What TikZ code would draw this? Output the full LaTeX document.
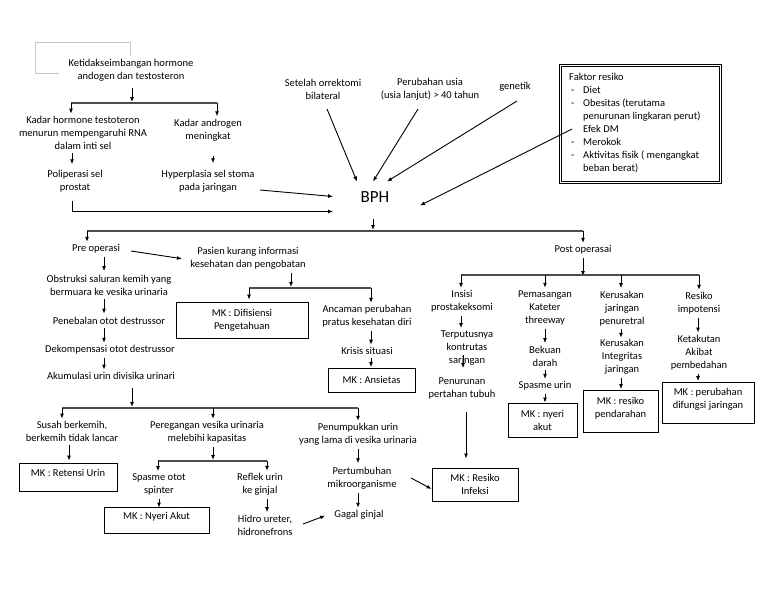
\documentclass[tikz,border=0pt]{standalone}
\usepackage{fontspec}
\setmainfont{Carlito}
\usetikzlibrary{arrows.meta,calc}
\begin{document}
\begin{tikzpicture}[x=1pt,y=-1pt,
  txt/.style={align=center,font=\fontsize{10.5}{13}\selectfont,inner sep=0.5pt},
  mk/.style={draw,line width=0.8pt,align=center,font=\fontsize{10.5}{13}\selectfont,inner sep=0pt},
  raised/.style={text depth=8pt},
  arr/.style={-{Latex[length=5pt,width=4pt]},line width=0.9pt,shorten <=3pt,shorten >=2pt},
  bar/.style={line width=1.2pt,draw=black!70}]
\fill[white] (0,0) rectangle (768,594);
\useasboundingbox (0,0) rectangle (768,594);
% faint frame
\draw[black!22,line width=0.8pt] (35,42) rectangle (130,73);
% top nodes
\node[txt,fill=white,inner xsep=10pt,inner ysep=2.5pt] (keti) at (131,70) {Ketidakseimbangan hormone\\andogen dan testosteron};
\node[txt] (khor) at (83,133) {Kadar hormone testoteron\\menurun mempengaruhi RNA\\dalam inti sel};
\node[txt] (kand) at (208,130) {Kadar androgen\\meningkat};
\node[txt] (poli) at (75,181) {Poliperasi sel\\prostat};
\node[txt] (hyp) at (208,181) {Hyperplasia sel stoma\\pada jaringan};
\node[txt] (orr) at (323,89.5) {Setelah orrektomi\\bilateral};
\node[txt] (usia) at (430,89.5) {Perubahan usia\\(usia lanjut) > 40 tahun};
\node[txt] (gen) at (515,87) {genetik};
\node[font=\fontsize{17}{20}\selectfont,inner sep=0.5pt] (bph) at (375,197.5) {BPH};
% risk factor box
\node[draw,line width=1pt,double,double distance=1pt,minimum width=160pt,minimum height=117pt,inner sep=0pt] (fk) at (640.5,124) {};
\node[txt,align=left,anchor=north west,inner sep=0pt] (fkt) at (569,72.8) {Faktor resiko\\
\makebox[14pt][l]{\hspace{2pt}-}Diet\\
\makebox[14pt][l]{\hspace{2pt}-}Obesitas (terutama\\
\makebox[14pt][l]{}penurunan lingkaran perut)\\
\makebox[14pt][l]{}Efek DM\\
\makebox[14pt][l]{\hspace{2pt}-}Merokok\\
\makebox[14pt][l]{\hspace{2pt}-}Aktivitas fisik ( mengangkat\\
\makebox[14pt][l]{}beban berat)};
% pre operasi branch
\node[txt] (pre) at (96,249) {Pre operasi};
\node[txt] (pasien) at (248,258.5) {Pasien kurang informasi\\kesehatan dan pengobatan};
\node[mk,minimum width=132pt,minimum height=36pt] (mkdif) at (242,320) {MK : Difisiensi\\Pengetahuan};
\node[txt] (ancam) at (367,316.5) {Ancaman perubahan\\pratus kesehatan diri};
\node[txt] (krisis) at (367,351) {Krisis situasi};
\node[mk,minimum width=87pt,minimum height=24pt] (mkans) at (371.5,380) {MK : Ansietas};
\node[txt] (obs) at (109,285) {Obstruksi saluran kemih yang\\bermuara ke vesika urinaria};
\node[txt] (pen) at (109,321) {Penebalan otot destrussor};
\node[txt] (dek) at (110,350) {Dekompensasi otot destrussor};
\node[txt] (aku) at (111,376) {Akumulasi urin divisika urinari};
\node[txt] (susah) at (72,431.5) {Susah berkemih,\\berkemih tidak lancar};
\node[mk,raised,minimum width=98pt,minimum height=28pt] (mkret) at (68,477) {MK : Retensi Urin};
\node[txt] (pereg) at (207,432.5) {Peregangan vesika urinaria\\melebihi kapasitas};
\node[txt] (spasme) at (159,484.5) {Spasme otot\\spinter};
\node[txt] (reflek) at (260,484.5) {Reflek urin\\ke ginjal};
\node[mk,raised,minimum width=105pt,minimum height=26pt] (mknyeri) at (156.5,520) {MK : Nyeri Akut};
\node[txt] (hidro) at (265,525) {Hidro ureter,\\hidronefrons};
\node[txt] (gagal) at (359,515) {Gagal ginjal};
\node[txt] (penum) at (358,434.5) {Penumpukkan urin\\yang lama di vesika urinaria};
\node[txt] (pert) at (362,478) {Pertumbuhan\\mikroorganisme};
\node[mk,minimum width=86pt,minimum height=33pt] (mkinf) at (475,484.5) {MK : Resiko\\Infeksi};
% post operasi branch
\node[txt] (post) at (583,250) {Post operasai};
\node[txt] (ins) at (462,301.5) {Insisi\\prostakeksomi};
\node[txt] (terp) at (467,348) {Terputusnya\\kontrutas\\saringan};
\node[txt] (penur) at (462,388.5) {Penurunan\\pertahan tubuh};
\node[txt] (pem) at (545,307.7) {Pemasangan\\Kateter\\threeway};
\node[txt] (bek) at (545,356) {Bekuan\\darah};
\node[txt] (spas) at (545,386) {Spasme urin};
\node[mk,minimum width=69pt,minimum height=34pt] (mknA) at (542.5,420) {MK : nyeri\\akut};
\node[txt] (ker) at (622,308.3) {Kerusakan\\jaringan\\penuretral};
\node[txt] (kint) at (622,357) {Kerusakan\\Integritas\\jaringan};
\node[mk,raised,minimum width=75pt,minimum height=42pt] (mkpen) at (620.5,411) {MK : resiko\\pendarahan};
\node[txt] (res) at (699,303.5) {Resiko\\impotensi};
\node[txt] (ket) at (699,352.7) {Ketakutan\\Akibat\\pembedahan};
\node[mk,raised,minimum width=92pt,minimum height=41pt] (mkper) at (708,402.5) {MK : perubahan\\difungsi jaringan};
% coordinates
\coordinate (b1L) at (71,103); \coordinate (b1M) at (132,103); \coordinate (b1R) at (217,103);
\coordinate (c72) at (72,0); \coordinate (c213) at (213,0);
\coordinate (b2L) at (87,231); \coordinate (b2M) at (373,231); \coordinate (b2R) at (583,231);
\coordinate (b3L) at (249,288); \coordinate (b3M) at (291,288); \coordinate (b3R) at (371,288);
\coordinate (c371) at (371,0); \coordinate (c104) at (104,0);
\coordinate (b4L) at (62,408); \coordinate (b4M) at (132,408); \coordinate (b4P) at (213,408); \coordinate (b4R) at (358,408);
\coordinate (c69) at (69,0);
\coordinate (b5L) at (158,461); \coordinate (b5M) at (213,461); \coordinate (b5R) at (267,461);
\coordinate (c159) at (159,0); \coordinate (c267) at (267,0); \coordinate (c358) at (358,0);
\coordinate (b6L) at (461,275); \coordinate (b6a) at (545,275); \coordinate (b6b) at (621,275); \coordinate (b6R) at (699,275); \coordinate (b6M) at (583,276);
\coordinate (c461) at (461,0); \coordinate (c463) at (463,0); \coordinate (c545) at (545,0); \coordinate (c621) at (621,0); \coordinate (c698) at (698,0);
% top connectors
\draw[arr,shorten <=4pt,shorten >=1pt] (keti.south -| b1M) -- (b1M);
\draw[bar] (b1L) -- (b1R);
\draw[arr,shorten <=0pt] (b1L) -- (khor.north -| b1L);
\draw[arr,shorten <=0pt] (b1R) -- (kand.north -| b1R);
\draw[arr,shorten >=5pt] (khor.south -| c72) -- (poli.north -| c72);
\draw[arr,shorten <=14pt,shorten >=6pt] (kand.south -| c213) -- (hyp.north -| c213);
\draw[arr,shorten <=0pt,shorten >=0pt] ($(poli.south)+(-3,8)$) |- ($(bph)+(-42,14)$);
\draw[arr,shorten <=0pt,shorten >=0pt] ($(hyp)+(52,9)$) -- ($(bph)+(-42,-1)$);
\draw[arr,shorten <=0pt,shorten >=0pt] ($(orr)+(4,19.5)$) -- ($(bph)+(-18,-16)$);
\draw[arr,shorten <=0pt,shorten >=0pt] ($(usia)+(-12,19.5)$) -- ($(bph)+(-2,-16)$);
\draw[arr,shorten <=0pt,shorten >=0pt] ($(gen)+(2,14)$) -- ($(bph)+(12,-16)$);
\draw[arr,shorten <=0pt,shorten >=0pt] ($(fk)+(-68.5,5)$) -- ($(bph)+(45,8)$);
% BPH split
\draw[arr,shorten <=15pt,shorten >=1pt] (bph.south -| b2M) -- (b2M);
\draw[bar] (b2L) -- (b2R);
\draw[arr,shorten <=0pt] (b2L) -- (pre.north -| b2L);
\draw[arr,shorten <=0pt] (b2R) -- (post.north);
% pre operasi
\draw[arr,shorten <=0pt] ($(pre)+(35,2)$) -- ($(pasien)+(-64,0.5)$);
\draw[arr,shorten >=1pt] (pasien.south -| b3M) -- (b3M);
\draw[bar] (b3L) -- (b3R);
\draw[arr,shorten <=0pt] (b3L) -- (mkdif.north -| b3L);
\draw[arr,shorten <=0pt] (b3R) -- (ancam.north -| b3R);
\draw[arr] (ancam.south -| c371) -- (krisis.north -| c371);
\draw[arr,shorten >=0.5pt] (krisis.south -| c371) -- (mkans.north -| c371);
\draw[arr,shorten >=3pt] (pre.south -| c104) -- (obs.north -| c104);
\draw[arr,shorten >=3pt] (obs.south -| c104) -- (pen.north -| c104);
\draw[arr] (pen.south -| c104) -- (dek.north -| c104);
\draw[arr] (dek.south -| c104) -- (aku.north -| c104);
\draw[arr,shorten <=8pt,shorten >=1pt] (aku.south -| b4M) -- (b4M);
\draw[bar] (b4L) -- (b4R);
\draw[arr,shorten <=0pt] (b4L) -- (susah.north -| b4L);
\draw[arr,shorten <=0pt] (b4P) -- (pereg.north -| b4P);
\draw[arr,shorten <=0pt] (b4R) -- (penum.north -| b4R);
\draw[arr] (susah.south -| c69) -- (mkret.north -| c69);
\draw[arr,shorten >=1pt] (pereg.south -| b5M) -- (b5M);
\draw[bar] (b5L) -- (b5R);
\draw[arr,shorten <=0pt] (b5L) -- (spasme.north -| b5L);
\draw[arr,shorten <=0pt] (b5R) -- (reflek.north -| b5R);
\draw[arr,shorten >=-1pt] (spasme.south -| c159) -- (mknyeri.north -| c159);
\draw[arr] (reflek.south -| c267) -- (hidro.north -| c267);
\draw[arr,shorten <=0pt] ($(hidro)+(38,-1)$) -- ($(gagal)+(-32,0)$);
\draw[arr,shorten >=3pt] (penum.south -| c358) -- (pert.north -| c358);
\draw[arr] (pert.south -| c358) -- (gagal.north -| c358);
\draw[arr,shorten <=0pt,shorten >=0pt] ($(pert)+(49,0)$) -- ($(mkinf.west)+(0,4.5)$);
% post operasi
\draw[arr,shorten >=0pt] (post.south) -- (b6M);
\draw[bar] (b6L) -- (b6R);
\draw[arr,shorten <=0pt] (b6L) -- (ins.north -| b6L);
\draw[arr,shorten <=0pt] (b6a) -- (pem.north -| b6a);
\draw[arr,shorten <=0pt] (b6b) -- (ker.north -| b6b);
\draw[arr,shorten <=0pt] (b6R) -- (res.north -| b6R);
\draw[arr] (ins.south -| c461) -- (terp.north -| c461);
\draw[arr,shorten <=0pt,shorten >=0pt] ($(terp.south -| c463)+(0,-11)$) -- ($(penur.north -| c463)+(0,-9)$);
\draw[arr,shorten <=0pt,shorten >=0pt] ($(penur.south)+(4,12)$) -- ($(mkinf.north)+(-9,-9)$);
\draw[arr] (pem.south -| c545) -- (bek.north -| c545);
\draw[arr] (bek.south -| c545) -- (spas.north -| c545);
\draw[arr,shorten >=0pt] (spas.south -| c545) -- (mknA.north -| c545);
\draw[arr,shorten >=1pt] (ker.south -| c621) -- (kint.north -| c621);
\draw[arr,shorten >=0.5pt] (kint.south -| c621) -- (mkpen.north -| c621);
\draw[arr] (res.south -| c698) -- (ket.north -| c698);
\draw[arr,shorten >=0.5pt] (ket.south -| c698) -- (mkper.north -| c698);
\end{tikzpicture}
\end{document}
